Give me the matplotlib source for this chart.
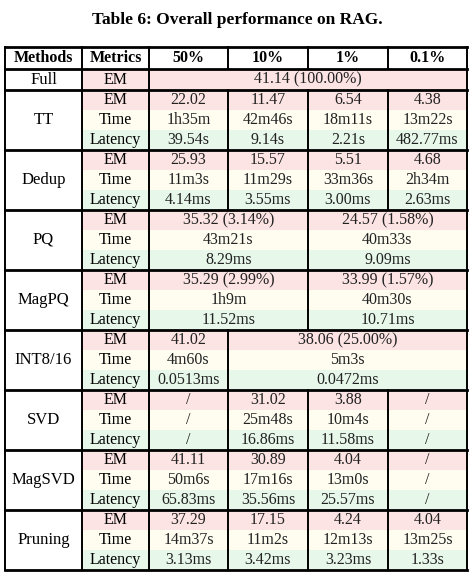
import matplotlib
matplotlib.use("Agg")
import matplotlib.pyplot as plt
from matplotlib.patches import Rectangle

title = "Table 6: Overall performance on RAG."
headers = ["Methods", "Metrics", "50%", "10%", "1%", "0.1%"]
methods = ["Full", "TT", "Dedup", "PQ", "MagPQ", "INT8/16", "SVD", "MagSVD", "Pruning"]
metrics = {"Full": ["EM"]}
default_metrics = ["EM", "Time", "Latency"]
# each row: list of (text, span in columns)
full_vals = [[("41.14 (100.00%)", 4)]]
tt_vals = [[("22.02", 1), ("11.47", 1), ("6.54", 1), ("4.38", 1)],
           [("1h35m", 1), ("42m46s", 1), ("18m11s", 1), ("13m22s", 1)],
           [("39.54s", 1), ("9.14s", 1), ("2.21s", 1), ("482.77ms", 1)]]
dedup_vals = [[("25.93", 1), ("15.57", 1), ("5.51", 1), ("4.68", 1)],
              [("11m3s", 1), ("11m29s", 1), ("33m36s", 1), ("2h34m", 1)],
              [("4.14ms", 1), ("3.55ms", 1), ("3.00ms", 1), ("2.63ms", 1)]]
pq_vals = [[("35.32 (3.14%)", 2), ("24.57 (1.58%)", 2)],
           [("43m21s", 2), ("40m33s", 2)],
           [("8.29ms", 2), ("9.09ms", 2)]]
magpq_vals = [[("35.29 (2.99%)", 2), ("33.99 (1.57%)", 2)],
              [("1h9m", 2), ("40m30s", 2)],
              [("11.52ms", 2), ("10.71ms", 2)]]
int_vals = [[("41.02", 1), ("38.06 (25.00%)", 3)],
            [("4m60s", 1), ("5m3s", 3)],
            [("0.0513ms", 1), ("0.0472ms", 3)]]
svd_vals = [[("/", 1), ("31.02", 1), ("3.88", 1), ("/", 1)],
            [("/", 1), ("25m48s", 1), ("10m4s", 1), ("/", 1)],
            [("/", 1), ("16.86ms", 1), ("11.58ms", 1), ("/", 1)]]
magsvd_vals = [[("41.11", 1), ("30.89", 1), ("4.04", 1), ("/", 1)],
               [("50m6s", 1), ("17m16s", 1), ("13m0s", 1), ("/", 1)],
               [("65.83ms", 1), ("35.56ms", 1), ("25.57ms", 1), ("/", 1)]]
prune_vals = [[("37.29", 1), ("17.15", 1), ("4.24", 1), ("4.04", 1)],
              [("14m37s", 1), ("11m2s", 1), ("12m13s", 1), ("13m25s", 1)],
              [("3.13ms", 1), ("3.42ms", 1), ("3.23ms", 1), ("1.33s", 1)]]
values = [full_vals, tt_vals, dedup_vals, pq_vals, magpq_vals, int_vals,
          svd_vals, magsvd_vals, prune_vals]

colors = {"EM": "#fde4e4", "Time": "#fefdf0", "Latency": "#e7f7ea"}

fig = plt.figure(figsize=(4.74, 5.79), dpi=100)
ax = fig.add_axes([0, 0, 1, 1])
ax.set_xlim(0, 474)
ax.set_ylim(579, 0)
ax.axis("off")
FONT = "Liberation Serif"
fs = 11.5

xs = [5, 82, 149, 228, 308, 388, 467]
ax.text(237, 20, title, ha="center", va="center", fontsize=12.5,
        fontweight="bold", family=FONT)

y = 47
hh = 22
for i, h in enumerate(headers):
    ax.text((xs[i] + xs[i + 1]) / 2, y + hh / 2, h, ha="center", va="center",
            fontsize=fs, fontweight="bold", family=FONT)
for xv in xs:
    ax.plot([xv, xv], [y, y + hh], color="black", lw=1.4)
ax.plot([xs[0], xs[-1]], [y, y], color="black", lw=2.0)
y += hh
rh = 20
ax.plot([xs[0], xs[-1]], [y, y], color="black", lw=2.0)

for m, rows in zip(methods, values):
    mets = metrics.get(m, default_metrics)
    top = y
    rh_use = 21 if m == "Full" else rh
    for met, row in zip(mets, rows):
        c = colors[met]
        ax.add_patch(Rectangle((xs[1], y), xs[-1] - xs[1], rh_use, color=c, lw=0, zorder=0))
        ax.text((xs[1] + xs[2]) / 2, y + rh_use / 2, met, ha="center", va="center",
                fontsize=fs, family=FONT)
        ci = 2
        for txt, span in row:
            x0, x1 = xs[ci], xs[ci + span]
            ax.text((x0 + x1) / 2, y + rh_use / 2, txt, ha="center", va="center",
                    fontsize=fs, family=FONT, color="#222222")
            if ci + span < 6:
                ax.plot([x1, x1], [y, y + rh_use], color="black", lw=1.4)
            ci += span
        y += rh_use
    ax.text((xs[0] + xs[1]) / 2, (top + y) / 2, m, ha="center", va="center",
            fontsize=fs + 0.5, family=FONT)
    for xv in [xs[0], xs[1], xs[2], xs[-1]]:
        ax.plot([xv, xv], [top, y], color="black", lw=1.4)
    ax.plot([xs[0], xs[-1]], [y, y], color="black", lw=2.0)

fig.savefig("out.png", dpi=100)
